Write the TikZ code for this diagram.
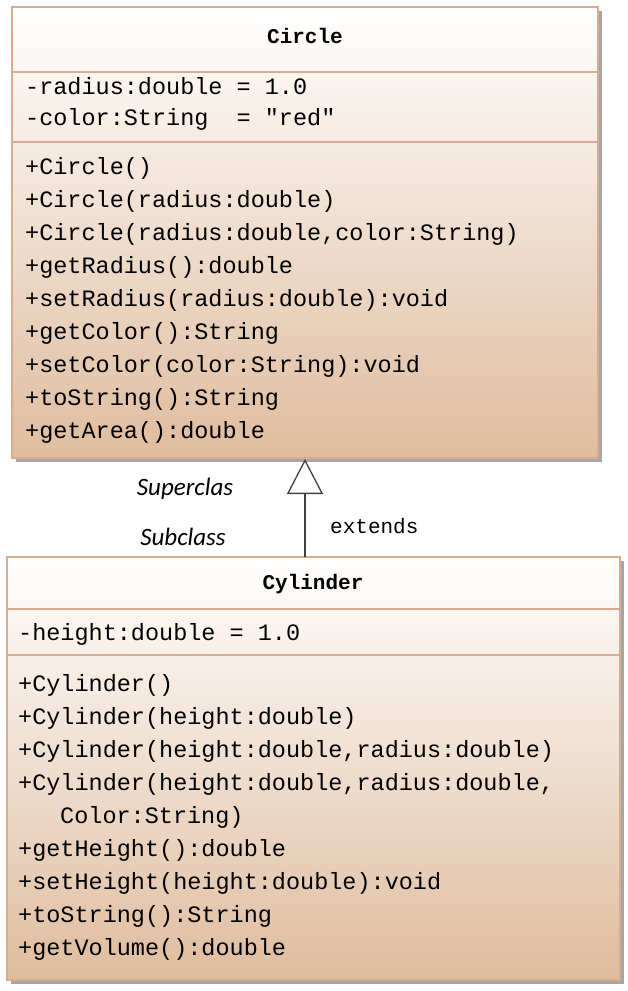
\documentclass[tikz,border=0pt]{standalone}
\usepackage{fontspec}
\setmonofont{Liberation Mono}
\newfontfamily\lblfont{Carlito}
\usetikzlibrary{arrows.meta}
\definecolor{tanb}{HTML}{DFBC9E}
\definecolor{edge}{HTML}{D8AC8E}
\tikzset{x=1pt,y=-1pt,
 txt/.style={anchor=west,inner sep=0pt,font=\ttfamily\fontsize{23.5}{26}\selectfont},
 ttl/.style={inner sep=0pt,font=\ttfamily\bfseries\fontsize{21}{24}\selectfont},
 lbl/.style={inner sep=0pt,font=\lblfont\itshape\fontsize{25}{28}\selectfont},
 boxline/.style={draw=edge,line width=2pt},
 shadowc/.style={fill=black!35}}
\begin{document}
\begin{tikzpicture}
\useasboundingbox (0,0) rectangle (628,991);
% Circle box
\fill[shadowc] (16,11) rectangle (602,462);
\shade[top color=white,bottom color=tanb] (12,7) rectangle (598,458);
\draw[boxline] (12,7) rectangle (598,458);
\draw[boxline] (12,72) -- (598,72);
\draw[boxline] (12,142) -- (598,142);
\node[ttl] (ct) at (305,36) {Circle};
\node[txt] (c1) at (25,86) {-radius:double = 1.0};
\node[txt] (c2) at (25,119) {-color:String~ = "red"};
\foreach \t [count=\i] in {+Circle(),+Circle(radius:double),{+Circle(radius:double,color:String)},+getRadius():double,+setRadius(radius:double):void,+getColor():String,+setColor(color:String):void,+toString():String,+getArea():double}
  \node[txt] (cm\i) at (25,{135+33*\i}) {\t};
% Cylinder box
\fill[shadowc] (11,561) rectangle (624,984);
\shade[top color=white,bottom color=tanb] (7,557) rectangle (620,980);
\draw[boxline] (7,557) rectangle (620,980);
\draw[boxline] (7,609) -- (620,609);
\draw[boxline] (7,655) -- (620,655);
\node[ttl] (yt) at (313,584) {Cylinder};
\node[txt] (y1) at (18,634) {-height:double = 1.0};
\foreach \t [count=\i] in {+Cylinder(),+Cylinder(height:double),{+Cylinder(height:double,radius:double)},{+Cylinder(height:double,radius:double,}}
  \node[txt] (ym\i) at (18,{652+33*\i}) {\t};
\node[txt] (ym5) at (60,817) {Color:String)};
\foreach \t [count=\i] in {+getHeight():double,+setHeight(height:double):void,+toString():String,+getVolume():double}
  \node[txt] (yn\i) at (18,{817+33*\i}) {\t};
% inheritance
\coordinate (top) at (305,459);
\coordinate (bot) at (305,557);
\draw[line width=1.3pt,black!75,-{Triangle[open,length=35pt,width=36pt,line width=1.3pt]}] (bot) -- (top);
\node[lbl] (sup) at (185,489) {Superclas};
\node[lbl] (sub) at (183,537) {Subclass};
\node[txt,font=\ttfamily\fontsize{21}{24}\selectfont] (ext) at (330,526) {extends};
\end{tikzpicture}
\end{document}
